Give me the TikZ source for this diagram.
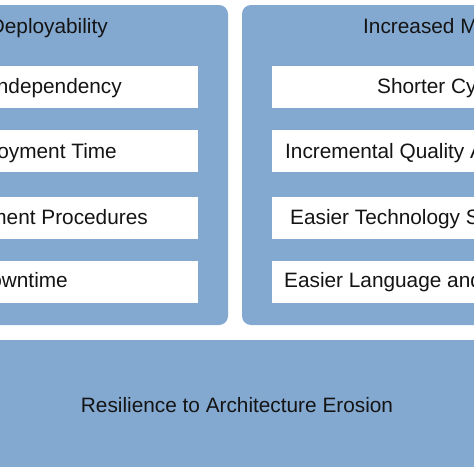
\documentclass[tikz,border=0pt]{standalone}
\usepackage{fontspec}
\setmainfont{Liberation Sans}
\definecolor{panelblue}{RGB}{132,169,209}
\definecolor{inktext}{RGB}{20,20,20}
\begin{document}
\begin{tikzpicture}[x=1pt,y=-1pt,
  panel/.style={fill=panelblue,draw=none,rounded corners=9pt},
  band/.style={fill=panelblue,draw=none},
  wbox/.style={fill=white,draw=none},
  lbl/.style={font=\fontsize{20.8}{25}\selectfont,text=inktext,inner sep=0pt}]
\useasboundingbox (0,0) rectangle (474,474);
\clip (0,0) rectangle (474,474);
\fill[white] (0,0) rectangle (474,474);
% panels
\path[panel] (-40,5) rectangle (228,325);
\path[panel] (242,5) rectangle (520,325);
\path[band] (-10,340) rectangle (484,467);
% left boxes
\node[wbox,minimum width=260,minimum height=42,anchor=north east] (l1) at (198,66) {};
\node[wbox,minimum width=260,minimum height=42,anchor=north east] (l2) at (198,130) {};
\node[wbox,minimum width=260,minimum height=42,anchor=north east] (l3) at (198,197) {};
\node[wbox,minimum width=260,minimum height=42,anchor=north east] (l4) at (198,261) {};
% right boxes
\node[wbox,minimum width=260,minimum height=42,anchor=north west] (r1) at (272,66) {};
\node[wbox,minimum width=260,minimum height=42,anchor=north west] (r2) at (272,130) {};
\node[wbox,minimum width=260,minimum height=42,anchor=north west] (r3) at (272,197) {};
\node[wbox,minimum width=260,minimum height=42,anchor=north west] (r4) at (272,261) {};
% titles
\node[lbl,anchor=base east] (lt) at (108,33) {Deployability};
\node[lbl,anchor=base west] (rt) at (363,33) {Increased M};
% left texts
\node[lbl,anchor=base east] (lx1) at (122,93) {Independency};
\node[lbl,anchor=base east] (lx2) at (117,158) {Deployment Time};
\node[lbl,anchor=base east] (lx3) at (148,224) {ment Procedures};
\node[lbl,anchor=base east] (lx4) at (68,287) {Downtime};
% right texts
\node[lbl,anchor=base west] (rx1) at (377,93) {Shorter Cy};
\node[lbl,anchor=base west] (rx2) at (285,158) {Incremental Quality A};
\node[lbl,anchor=base west] (rx3) at (290,224) {Easier Technology S};
\node[lbl,anchor=base west] (rx4) at (284,287) {Easier Language and};
% bottom
\node[lbl,anchor=base] (bt) at (237,412) {Resilience to Architecture Erosion};
\end{tikzpicture}
\end{document}
